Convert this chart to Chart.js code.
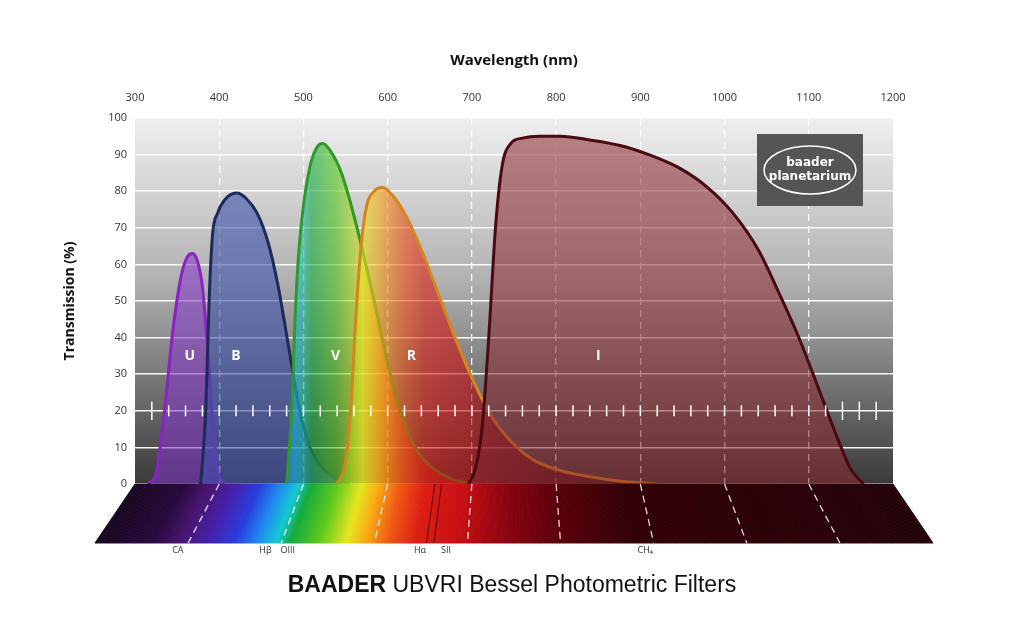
<!DOCTYPE html>
<html>
<head>
<meta charset="utf-8">
<script src="https://cdn.jsdelivr.net/npm/chart.js@4.4.1/dist/chart.umd.min.js"></script>
<style>
  html, body { margin: 0; padding: 0; background: #fff; }
  #wrap { width: 1024px; height: 622px; }
</style>
</head>
<body>
<div id="wrap"><canvas id="c" width="1024" height="622"></canvas></div>
<script>
// Filter curves: wavelength (nm) / transmission (%)
const uWave = [315, 325, 335, 345, 355, 362, 368, 374, 380, 386, 392, 398, 405]
const uTrans = [0, 3, 20, 42, 57, 62, 63, 61, 54, 38, 18, 4, 0]
const bWave = [378, 384, 388, 392, 398, 408, 421, 432, 445, 458, 470, 482, 494, 506, 520, 535, 555]
const bTrans = [0, 20, 50, 68, 74, 78, 79.5, 78, 74, 66, 54, 38, 22, 11, 5, 2, 0]
const vWave = [480, 486, 490, 494, 500, 508, 516, 523, 532, 545, 558, 572, 585, 598, 612, 630, 650, 675, 700]
const vTrans = [0, 20, 45, 62, 76, 87, 92, 93, 91, 85, 75, 62, 49, 35, 22, 11, 5, 1.5, 0]
const rWave = [540, 550, 556, 562, 568, 575, 584, 594, 605, 620, 640, 660, 680, 700, 722, 745, 770, 800, 840, 880, 920]
const rTrans = [0, 6, 20, 45, 64, 76, 80, 81, 79, 74, 64, 52, 40, 29, 19, 12, 7, 4, 2, 0.7, 0]
const iWave = [696, 704, 712, 720, 728, 736, 746, 760, 780, 805, 840, 876, 910, 945, 980, 1010, 1040, 1065, 1090, 1115, 1135, 1150, 1165]
const iTrans = [0, 4, 15, 40, 70, 87, 93, 94.5, 95, 95, 94, 92.5, 90, 86.5, 81, 74, 64, 52, 39, 24, 12, 4, 0]

const xTicks = [300, 400, 500, 600, 700, 800, 900, 1000, 1100, 1200]
const lineNames = ["CA", "Hβ", "OIII", "Hα", "SII", "CH₄"]
const lineWaves = [389, 483, 507, 649, 677, 891]
const bandLabels = ["U", "B", "V", "R", "I"]
const bandWaves = [365, 420, 538, 628, 850]
const bandLevel = 35

// colours of the spectrum strip (nm -> rgb)
const specStops = [
  [300, [22, 6, 30]], [360, [40, 8, 60]], [390, [70, 20, 110]], [420, [70, 30, 170]],
  [450, [40, 60, 220]], [475, [30, 140, 240]], [495, [20, 200, 210]], [510, [20, 170, 60]],
  [540, [90, 200, 30]], [570, [230, 230, 30]], [590, [250, 170, 20]], [615, [240, 90, 20]],
  [645, [220, 30, 20]], [690, [200, 15, 20]], [740, [140, 5, 15]], [800, [90, 0, 10]],
  [880, [50, 0, 8]], [1200, [35, 3, 8]]
]
function specColor(nm, a) {
  let i = 0
  while (i < specStops.length - 2 && nm > specStops[i + 1][0]) i++
  const [w0, c0] = specStops[i], [w1, c1] = specStops[i + 1]
  const t = Math.max(0, Math.min(1, (nm - w0) / (w1 - w0)))
  const c = c0.map((v, k) => Math.round(v + (c1[k] - v) * t))
  return `rgba(${c[0]},${c[1]},${c[2]},${a})`
}

const pts = (w, t) => w.map((x, i) => ({ x: x, y: t[i] }))

// horizontal gradient fill following the spectrum
function specFill(alpha, from, to) {
  return ctx => {
    const { chart } = ctx
    if (!chart.chartArea) return "transparent"
    const x = chart.scales.x
    const g = chart.ctx.createLinearGradient(x.getPixelForValue(from), 0, x.getPixelForValue(to), 0)
    for (let nm = from; nm <= to; nm += 10) g.addColorStop((nm - from) / (to - from), specColor(nm, alpha))
    return g
  }
}

const bgPlugin = {
  id: "bg",
  beforeDraw(chart) {
    const { ctx, chartArea: a } = chart
    const g = ctx.createLinearGradient(0, a.top, 0, a.bottom)
    g.addColorStop(0, "#efefef")
    g.addColorStop(0.45, "#b0b0b0")
    g.addColorStop(1, "#3a3a3a")
    ctx.save()
    ctx.fillStyle = g
    ctx.fillRect(a.left, a.top, a.width, a.height)
    ctx.restore()
  },
  afterDatasetsDraw(chart) {
    const { ctx, chartArea: a, scales: { x, y } } = chart
    ctx.save()
    // band letters
    ctx.fillStyle = "#fff"
    ctx.font = "bold 14px 'Open Sans', sans-serif"
    ctx.textAlign = "center"
    ctx.textBaseline = "middle"
    bandLabels.forEach((s, i) => ctx.fillText(s, x.getPixelForValue(bandWaves[i]), y.getPixelForValue(bandLevel)))
    // small ticks along the 20% line
    ctx.strokeStyle = "#fff"
    ctx.lineWidth = 1.5
    for (let nm = 320; nm <= 1180; nm += 20) {
      const px = x.getPixelForValue(nm)
      const big = nm < 340 || nm > 1120
      ctx.beginPath()
      ctx.moveTo(px, y.getPixelForValue(big ? 22.5 : 21.5))
      ctx.lineTo(px, y.getPixelForValue(big ? 17.5 : 18.5))
      ctx.stroke()
    }

    // spectrum strip in perspective
    const top = a.bottom, bot = a.bottom + 59
    const bl = a.left - 40, br = a.right + 40
    const toBot = px => bl + (px - a.left) * (br - bl) / (a.right - a.left)
    ctx.lineWidth = 1
    for (let nm = 300; nm < 1200; nm += 2) {
      const p0 = x.getPixelForValue(nm), p1 = x.getPixelForValue(Math.min(1200, nm + 2))
      const col = specColor(nm + 1, 1)
      ctx.fillStyle = col
      ctx.strokeStyle = col
      ctx.beginPath()
      ctx.moveTo(p0, top); ctx.lineTo(p1, top); ctx.lineTo(toBot(p1), bot); ctx.lineTo(toBot(p0), bot)
      ctx.closePath(); ctx.fill(); ctx.stroke()
    }
    ctx.setLineDash([7, 5])
    ctx.strokeStyle = "rgba(255,255,255,0.85)"
    ctx.lineWidth = 1.3
    for (let nm = 400; nm <= 1100; nm += 100) {
      const p = x.getPixelForValue(nm)
      ctx.beginPath(); ctx.moveTo(p, top); ctx.lineTo(toBot(p), bot); ctx.stroke()
    }
    ctx.setLineDash([])
    ctx.strokeStyle = "rgba(0,0,0,0.6)"
    ctx.lineWidth = 1
    ;[656, 664].forEach(nm => {
      const p = x.getPixelForValue(nm)
      ctx.beginPath(); ctx.moveTo(p, top); ctx.lineTo(toBot(p), bot); ctx.stroke()
    })
    ctx.fillStyle = "#333"
    ctx.font = "9px 'Open Sans', sans-serif"
    ctx.textBaseline = "top"
    ctx.textAlign = "center"
    lineNames.forEach((s, i) => {
      const p = toBot(x.getPixelForValue(lineWaves[i]))
      ctx.fillText(s, p, bot + 3)
    })

    // title at the bottom
    ctx.textBaseline = "middle"
    ctx.textAlign = "left"
    ctx.fillStyle = "#111"
    ctx.font = "bold 23px 'Liberation Sans', Arial, sans-serif"
    const t1 = "BAADER ", t2 = "UBVRI Bessel Photometric Filters"
    const w1 = ctx.measureText(t1).width
    ctx.font = "23px 'Liberation Sans', Arial, sans-serif"
    const w2 = ctx.measureText(t2).width
    const sx = 512 - (w1 + w2) / 2
    ctx.font = "bold 23px 'Liberation Sans', Arial, sans-serif"
    ctx.fillText(t1, sx, 586)
    ctx.font = "23px 'Liberation Sans', Arial, sans-serif"
    ctx.fillText(t2, sx + w1, 586)

    // logo box
    ctx.fillStyle = "#555"
    ctx.fillRect(757, 134, 106, 72)
    ctx.strokeStyle = "#fff"
    ctx.lineWidth = 1.5
    ctx.beginPath(); ctx.ellipse(810, 170, 46, 24, 0, 0, Math.PI * 2); ctx.stroke()
    ctx.fillStyle = "#fff"
    ctx.textAlign = "center"
    ctx.font = "bold 12px 'DejaVu Sans', sans-serif"
    ctx.fillText("baader", 810, 163)
    ctx.fillText("planetarium", 810, 177)
    ctx.restore()
  }
}

const common = { fill: "origin", borderWidth: 3, pointRadius: 0, cubicInterpolationMode: "monotone" }

new Chart(document.getElementById("c"), {
  type: "line",
  data: {
    datasets: [
      { ...common, label: "I", data: pts(iWave, iTrans), borderColor: "#4a0a12", backgroundColor: "rgba(140,40,50,0.55)" },
      { ...common, label: "R", data: pts(rWave, rTrans), borderColor: "#d4861c", backgroundColor: specFill(0.6, 540, 900) },
      { ...common, label: "V", data: pts(vWave, vTrans), borderColor: "#2f9a2a", backgroundColor: specFill(0.6, 480, 700) },
      { ...common, label: "B", data: pts(bWave, bTrans), borderColor: "#1c2b5a", backgroundColor: "rgba(60,80,170,0.6)" },
      { ...common, label: "U", data: pts(uWave, uTrans), borderColor: "#8a23c0", backgroundColor: "rgba(130,50,200,0.55)" }
    ]
  },
  options: {
    responsive: false,
    animation: false,
    layout: { padding: { left: 0, right: 131, top: 0, bottom: 138 } },
    plugins: { legend: { display: false }, tooltip: { enabled: false } },
    scales: {
      x: {
        type: "linear", position: "top", min: 300, max: 1200,
        afterBuildTicks: s => { s.ticks = xTicks.map(v => ({ value: v })) },
        afterFit: s => { s.height = 118 },
        ticks: { color: "#333", font: { size: 11, family: "'Open Sans', sans-serif" }, padding: 14, callback: v => String(v) },
        grid: { color: ctx => (ctx.tick && ctx.tick.value > 300 && ctx.tick.value < 1200) ? "rgba(255,255,255,0.9)" : "transparent", lineWidth: 1.3, drawTicks: false },
        border: { display: false, dash: [7, 5] },
        title: { display: true, text: "Wavelength (nm)", color: "#111", font: { size: 15, weight: "bold", family: "'Open Sans', sans-serif" }, padding: { top: 52, bottom: 4 } }
      },
      y: {
        min: 0, max: 100,
        ticks: { stepSize: 10, color: "#333", font: { size: 11, family: "'Open Sans', sans-serif" }, padding: 8 },
        afterFit: s => { s.width = 135 },
        grid: { color: "rgba(255,255,255,0.95)", lineWidth: 1.5, drawTicks: false },
        border: { display: false },
        title: { display: true, text: "Transmission (%)", color: "#111", font: { size: 14, weight: "bold", family: "'Open Sans', sans-serif" }, padding: { top: 62, bottom: 0 } }
      }
    }
  },
  plugins: [bgPlugin]
})
</script>
</body>
</html>
